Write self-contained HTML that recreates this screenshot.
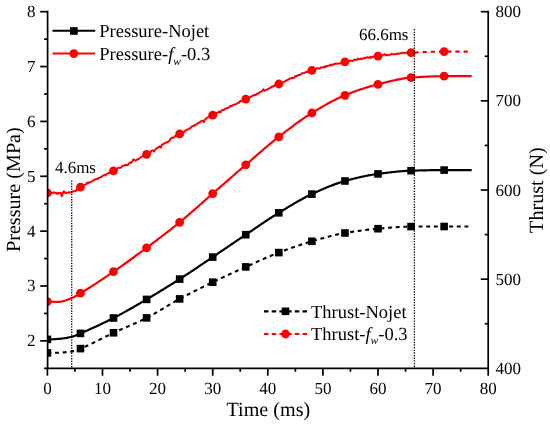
<!DOCTYPE html>
<html><head><meta charset="utf-8"><style>
html,body{margin:0;padding:0;background:#fff;width:550px;height:424px;overflow:hidden}
svg{display:block}
</style></head><body>
<svg text-rendering="geometricPrecision" width="550" height="424" viewBox="0 0 550 424">
<defs><clipPath id="pc"><rect x="47.4" y="0" width="440.8" height="368.3"/></clipPath></defs>
<g clip-path="url(#pc)">
<path d="M47.40,352.90 L48.78,352.90 L50.16,352.88 L51.53,352.87 L52.91,352.84 L54.29,352.81 L55.66,352.78 L57.04,352.74 L58.42,352.70 L59.80,352.65 L61.17,352.58 L62.55,352.49 L63.93,352.39 L65.31,352.26 L66.69,352.12 L68.06,351.96 L69.44,351.79 L70.82,351.60 L72.19,351.39 L73.57,351.14 L74.95,350.76 L76.33,350.28 L77.70,349.73 L79.08,349.16 L80.46,348.60 L81.84,348.05 L83.22,347.48 L84.59,346.89 L85.97,346.29 L87.35,345.67 L88.72,345.03 L90.10,344.38 L91.48,343.72 L92.86,343.05 L94.23,342.37 L95.61,341.69 L96.99,341.00 L98.37,340.30 L99.75,339.61 L101.12,338.91 L102.50,338.21 L103.88,337.51 L105.25,336.82 L106.63,336.13 L108.01,335.45 L109.39,334.77 L110.76,334.10 L112.14,333.45 L113.52,332.80 L114.90,332.17 L116.28,331.54 L117.65,330.92 L119.03,330.31 L120.41,329.70 L121.78,329.10 L123.16,328.50 L124.54,327.90 L125.92,327.31 L127.30,326.71 L128.67,326.12 L130.05,325.52 L131.43,324.92 L132.81,324.32 L134.18,323.71 L135.56,323.10 L136.94,322.48 L138.31,321.86 L139.69,321.22 L141.07,320.58 L142.45,319.93 L143.82,319.27 L145.20,318.59 L146.58,317.90 L147.96,317.19 L149.34,316.47 L150.71,315.73 L152.09,314.97 L153.47,314.20 L154.84,313.42 L156.22,312.62 L157.60,311.82 L158.98,311.00 L160.35,310.19 L161.73,309.36 L163.11,308.53 L164.49,307.71 L165.87,306.88 L167.24,306.05 L168.62,305.22 L170.00,304.40 L171.38,303.59 L172.75,302.78 L174.13,301.98 L175.51,301.19 L176.89,300.41 L178.26,299.65 L179.64,298.90 L181.02,298.16 L182.40,297.43 L183.77,296.70 L185.15,295.98 L186.53,295.26 L187.91,294.54 L189.28,293.83 L190.66,293.12 L192.04,292.42 L193.42,291.72 L194.79,291.02 L196.17,290.32 L197.55,289.63 L198.93,288.95 L200.30,288.26 L201.68,287.58 L203.06,286.90 L204.44,286.22 L205.81,285.55 L207.19,284.87 L208.57,284.20 L209.95,283.53 L211.32,282.87 L212.70,282.20 L214.08,281.54 L215.46,280.87 L216.83,280.22 L218.21,279.56 L219.59,278.91 L220.97,278.26 L222.34,277.61 L223.72,276.96 L225.10,276.32 L226.47,275.68 L227.85,275.04 L229.23,274.40 L230.61,273.77 L231.99,273.13 L233.36,272.50 L234.74,271.87 L236.12,271.25 L237.50,270.62 L238.87,270.00 L240.25,269.37 L241.63,268.75 L243.00,268.13 L244.38,267.52 L245.76,266.90 L247.14,266.28 L248.52,265.66 L249.89,265.04 L251.27,264.42 L252.65,263.80 L254.03,263.18 L255.40,262.56 L256.78,261.94 L258.16,261.32 L259.53,260.70 L260.91,260.09 L262.29,259.48 L263.67,258.87 L265.05,258.27 L266.42,257.67 L267.80,257.08 L269.18,256.50 L270.56,255.92 L271.93,255.34 L273.31,254.78 L274.69,254.22 L276.06,253.67 L277.44,253.13 L278.82,252.60 L280.20,252.08 L281.57,251.55 L282.95,251.04 L284.33,250.52 L285.71,250.01 L287.08,249.51 L288.46,249.01 L289.84,248.51 L291.22,248.02 L292.60,247.53 L293.97,247.05 L295.35,246.57 L296.73,246.10 L298.11,245.63 L299.48,245.17 L300.86,244.71 L302.24,244.26 L303.62,243.82 L304.99,243.38 L306.37,242.95 L307.75,242.53 L309.12,242.11 L310.50,241.70 L311.88,241.30 L313.26,240.90 L314.63,240.50 L316.01,240.10 L317.39,239.71 L318.77,239.31 L320.14,238.92 L321.52,238.53 L322.90,238.15 L324.28,237.77 L325.65,237.39 L327.03,237.03 L328.41,236.66 L329.79,236.31 L331.16,235.96 L332.54,235.61 L333.92,235.28 L335.30,234.96 L336.67,234.64 L338.05,234.34 L339.43,234.05 L340.81,233.77 L342.18,233.50 L343.56,233.24 L344.94,233.00 L346.32,232.77 L347.69,232.54 L349.07,232.31 L350.45,232.09 L351.83,231.88 L353.20,231.66 L354.58,231.46 L355.96,231.25 L357.34,231.06 L358.71,230.87 L360.09,230.68 L361.47,230.49 L362.85,230.32 L364.22,230.14 L365.60,229.98 L366.98,229.81 L368.36,229.66 L369.73,229.50 L371.11,229.36 L372.49,229.21 L373.87,229.08 L375.25,228.95 L376.62,228.82 L378.00,228.70 L379.38,228.58 L380.75,228.46 L382.13,228.34 L383.51,228.22 L384.89,228.10 L386.26,227.98 L387.64,227.87 L389.02,227.75 L390.40,227.64 L391.77,227.53 L393.15,227.42 L394.53,227.32 L395.91,227.22 L397.28,227.13 L398.66,227.04 L400.04,226.96 L401.42,226.89 L402.80,226.82 L404.17,226.76 L405.55,226.71 L406.93,226.67 L408.31,226.64 L409.68,226.61 L411.06,226.60 L412.44,226.59 L413.81,226.58 L415.19,226.58 L416.57,226.57 L417.95,226.56 L419.32,226.56 L420.70,226.55 L422.08,226.55 L423.46,226.54 L424.83,226.54 L426.21,226.53 L427.59,226.53 L428.97,226.52 L430.35,226.52 L431.72,226.51 L433.10,226.51 L434.48,226.51 L435.86,226.51 L437.23,226.50 L438.61,226.50 L439.99,226.50 L441.37,226.50 L442.74,226.50 L444.12,226.50 L445.50,226.50 L446.88,226.50 L448.25,226.50 L449.63,226.50 L451.01,226.50 L452.38,226.50 L453.76,226.50 L455.14,226.50 L456.52,226.50 L457.89,226.50 L459.27,226.50 L460.65,226.50 L462.03,226.50 L463.40,226.50 L464.78,226.50 L466.16,226.50 L467.54,226.50 L468.92,226.50 L470.29,226.50 L471.67,226.50" fill="none" stroke="#000" stroke-width="2.1" stroke-dasharray="3.9 3.74"/>
<path d="M47.40,193.61 L48.50,192.03 L49.60,193.09 L50.71,192.76 L51.81,192.81 L52.91,192.90 L54.01,192.28 L55.11,192.91 L56.22,192.69 L57.32,194.16 L58.42,193.08 L59.52,192.88 L60.62,192.90 L61.73,196.26 L62.83,192.60 L63.93,191.26 L65.03,193.00 L66.13,192.65 L67.24,192.94 L68.34,192.39 L69.44,192.30 L70.54,192.65 L71.64,192.10 L72.75,191.52 L73.85,191.30 L74.95,191.00 L76.05,190.80 L77.15,189.25 L78.26,188.46 L79.36,188.12 L80.46,186.79 L81.56,186.40 L82.66,186.21 L83.77,185.52 L84.87,184.77 L85.97,184.40 L87.07,182.61 L88.17,183.40 L89.28,182.15 L90.38,182.27 L91.48,181.49 L92.58,181.10 L93.68,180.16 L94.79,179.41 L95.89,179.26 L96.99,178.71 L98.09,178.69 L99.19,177.94 L100.30,177.22 L101.40,177.02 L102.50,176.04 L103.60,175.26 L104.70,175.27 L105.81,174.74 L106.91,173.94 L108.01,173.21 L109.11,173.03 L110.21,171.55 L111.32,173.30 L112.42,171.52 L113.52,170.23 L114.62,170.28 L115.72,169.38 L116.83,169.44 L117.93,167.92 L119.03,167.78 L120.13,167.82 L121.23,167.44 L122.34,165.75 L123.44,165.80 L124.54,165.56 L125.64,164.70 L126.74,164.94 L127.85,165.12 L128.95,163.44 L130.05,162.41 L131.15,162.74 L132.25,161.70 L133.36,159.27 L134.46,160.01 L135.56,160.65 L136.66,159.78 L137.76,159.22 L138.87,158.79 L139.97,157.95 L141.07,157.03 L142.17,156.40 L143.27,155.81 L144.38,155.98 L145.48,154.39 L146.58,155.67 L147.68,153.57 L148.78,153.14 L149.89,153.48 L150.99,151.35 L152.09,150.52 L153.19,150.47 L154.29,151.49 L155.40,149.39 L156.50,148.52 L157.60,147.64 L158.70,147.16 L159.80,146.28 L160.91,147.62 L162.01,144.69 L163.11,144.31 L164.21,143.51 L165.31,143.04 L166.42,142.22 L167.52,142.33 L168.62,141.25 L169.72,140.55 L170.82,138.61 L171.93,137.53 L173.03,137.72 L174.13,137.43 L175.23,135.77 L176.33,136.30 L177.44,135.59 L178.54,134.10 L179.64,133.56 L180.74,132.97 L181.84,132.62 L182.95,132.18 L184.05,132.02 L185.15,130.59 L186.25,130.28 L187.35,129.42 L188.46,129.34 L189.56,128.34 L190.66,127.92 L191.76,126.43 L192.86,126.10 L193.97,125.25 L195.07,125.43 L196.17,124.50 L197.27,123.54 L198.37,122.86 L199.48,122.57 L200.58,121.54 L201.68,120.84 L202.78,120.72 L203.88,122.11 L204.99,119.25 L206.09,118.54 L207.19,117.73 L208.29,117.07 L209.39,117.13 L210.50,116.66 L211.60,115.78 L212.70,115.32 L213.80,114.67 L214.90,114.10 L216.01,112.95 L217.11,112.76 L218.21,112.40 L219.31,111.54 L220.41,112.48 L221.52,110.42 L222.62,110.04 L223.72,109.92 L224.82,108.93 L225.92,108.48 L227.03,108.29 L228.13,107.69 L229.23,107.53 L230.33,105.67 L231.43,106.18 L232.54,105.18 L233.64,104.87 L234.74,104.59 L235.84,104.16 L236.94,103.62 L238.05,102.79 L239.15,102.78 L240.25,100.78 L241.35,101.13 L242.45,100.94 L243.56,99.95 L244.66,100.38 L245.76,99.46 L246.86,99.34 L247.96,98.05 L249.07,97.41 L250.17,97.09 L251.27,96.77 L252.37,95.79 L253.47,95.61 L254.58,94.96 L255.68,95.02 L256.78,93.71 L257.88,93.80 L258.98,92.69 L260.09,92.07 L261.19,91.66 L262.29,90.98 L263.39,89.24 L264.49,90.75 L265.60,89.95 L266.70,89.61 L267.80,89.46 L268.90,88.49 L270.00,87.96 L271.11,87.31 L272.21,86.35 L273.31,86.69 L274.41,85.32 L275.51,85.67 L276.62,84.96 L277.72,84.87 L278.82,83.98 L279.92,83.23 L281.02,83.16 L282.13,83.57 L283.23,81.99 L284.33,81.58 L285.43,81.02 L286.53,80.51 L287.64,79.79 L288.74,79.52 L289.84,78.35 L290.94,78.55 L292.04,77.70 L293.15,78.02 L294.25,77.59 L295.35,75.98 L296.45,76.24 L297.55,75.68 L298.66,74.89 L299.76,74.98 L300.86,74.18 L301.96,73.28 L303.06,73.37 L304.17,72.98 L305.27,72.65 L306.37,71.77 L307.47,72.01 L308.57,71.66 L309.68,70.62 L310.78,69.42 L311.88,70.27 L312.98,69.75 L314.08,70.22 L315.19,69.35 L316.29,68.59 L317.39,68.34 L318.49,68.27 L319.59,68.78 L320.70,67.60 L321.80,67.40 L322.90,67.23 L324.00,66.73 L325.10,67.25 L326.21,65.98 L327.31,66.13 L328.41,65.65 L329.51,65.53 L330.61,64.63 L331.72,65.39 L332.82,64.46 L333.92,64.25 L335.02,63.65 L336.12,63.47 L337.23,63.67 L338.33,63.57 L339.43,63.24 L340.53,63.16 L341.63,63.76 L342.74,62.27 L343.84,62.32 L344.94,62.01 L346.04,61.54 L347.14,61.60 L348.25,61.58 L349.35,60.99 L350.45,60.56 L351.55,60.72 L352.65,60.92 L353.76,59.97 L354.86,59.80 L355.96,59.58 L357.06,59.85 L358.16,58.58 L359.27,59.15 L360.37,59.24 L361.47,58.34 L362.57,58.96 L363.67,58.44 L364.78,57.87 L365.88,57.95 L366.98,57.17 L368.08,57.33 L369.18,57.99 L370.29,56.87 L371.39,57.67 L372.49,56.83 L373.59,57.05 L374.69,56.56 L375.80,55.61 L376.90,56.04 L378.00,56.17 L379.10,55.56 L380.20,55.34 L381.31,55.80 L382.41,55.31 L383.51,54.80 L384.61,54.13 L385.71,55.42 L386.82,54.81 L387.92,55.17 L389.02,55.25 L390.12,54.59 L391.22,54.05 L392.33,53.87 L393.43,54.19 L394.53,54.38 L395.63,54.05 L396.73,54.03 L397.84,53.57 L398.94,53.72 L400.04,53.35 L401.14,53.30 L402.24,52.86 L403.35,52.67 L404.45,52.96 L405.55,52.66 L406.65,52.63 L407.75,53.13 L408.86,52.78 L409.96,53.78 L411.06,53.02 L412.16,52.42 L413.26,52.86" fill="none" stroke="#f00" stroke-width="2.0" stroke-linejoin="round"/>
<path d="M414.37,52.53 L415.47,52.48 L416.57,52.43 L417.67,52.37 L418.77,52.32 L419.88,52.27 L420.98,52.22 L422.08,52.17 L423.18,52.12 L424.28,52.07 L425.39,52.03 L426.49,51.98 L427.59,51.94 L428.69,51.90 L429.79,51.86 L430.90,51.83 L432.00,51.79 L433.10,51.76 L434.20,51.73 L435.30,51.71 L436.41,51.68 L437.51,51.66 L438.61,51.64 L439.71,51.63 L440.81,51.62 L441.92,51.61 L443.02,51.60 L444.12,51.60 L445.22,51.60 L446.32,51.60 L447.43,51.60 L448.53,51.60 L449.63,51.60 L450.73,51.60 L451.83,51.60 L452.94,51.60 L454.04,51.60 L455.14,51.60 L456.24,51.60 L457.34,51.60 L458.45,51.60 L459.55,51.60 L460.65,51.60 L461.75,51.60 L462.85,51.60 L463.96,51.60 L465.06,51.60 L466.16,51.60 L467.26,51.60 L468.36,51.60 L469.47,51.60 L470.57,51.60 L471.67,51.60" fill="none" stroke="#f00" stroke-width="2.1" stroke-dasharray="4.3 3.9"/>
<path d="M47.40,339.40 L48.78,339.39 L50.16,339.36 L51.53,339.31 L52.91,339.25 L54.29,339.17 L55.66,339.09 L57.04,338.99 L58.42,338.90 L59.80,338.79 L61.17,338.65 L62.55,338.48 L63.93,338.28 L65.31,338.06 L66.69,337.82 L68.06,337.55 L69.44,337.27 L70.82,336.96 L72.19,336.63 L73.57,336.27 L74.95,335.80 L76.33,335.24 L77.70,334.63 L79.08,334.01 L80.46,333.40 L81.84,332.81 L83.22,332.22 L84.59,331.62 L85.97,331.02 L87.35,330.42 L88.72,329.81 L90.10,329.19 L91.48,328.57 L92.86,327.95 L94.23,327.32 L95.61,326.69 L96.99,326.05 L98.37,325.41 L99.75,324.76 L101.12,324.11 L102.50,323.45 L103.88,322.79 L105.25,322.12 L106.63,321.44 L108.01,320.77 L109.39,320.08 L110.76,319.39 L112.14,318.70 L113.52,318.00 L114.90,317.29 L116.28,316.58 L117.65,315.85 L119.03,315.12 L120.41,314.38 L121.78,313.63 L123.16,312.88 L124.54,312.12 L125.92,311.35 L127.30,310.58 L128.67,309.80 L130.05,309.02 L131.43,308.23 L132.81,307.44 L134.18,306.65 L135.56,305.85 L136.94,305.05 L138.31,304.25 L139.69,303.44 L141.07,302.63 L142.45,301.83 L143.82,301.02 L145.20,300.21 L146.58,299.40 L147.96,298.59 L149.34,297.78 L150.71,296.96 L152.09,296.14 L153.47,295.31 L154.84,294.49 L156.22,293.66 L157.60,292.83 L158.98,291.99 L160.35,291.15 L161.73,290.31 L163.11,289.46 L164.49,288.61 L165.87,287.76 L167.24,286.91 L168.62,286.05 L170.00,285.19 L171.38,284.33 L172.75,283.47 L174.13,282.60 L175.51,281.73 L176.89,280.85 L178.26,279.98 L179.64,279.10 L181.02,278.22 L182.40,277.33 L183.77,276.44 L185.15,275.54 L186.53,274.64 L187.91,273.73 L189.28,272.82 L190.66,271.91 L192.04,271.00 L193.42,270.08 L194.79,269.16 L196.17,268.24 L197.55,267.31 L198.93,266.38 L200.30,265.46 L201.68,264.53 L203.06,263.60 L204.44,262.67 L205.81,261.74 L207.19,260.81 L208.57,259.88 L209.95,258.95 L211.32,258.03 L212.70,257.10 L214.08,256.17 L215.46,255.25 L216.83,254.32 L218.21,253.38 L219.59,252.45 L220.97,251.52 L222.34,250.58 L223.72,249.64 L225.10,248.71 L226.47,247.77 L227.85,246.83 L229.23,245.89 L230.61,244.96 L231.99,244.02 L233.36,243.08 L234.74,242.14 L236.12,241.21 L237.50,240.27 L238.87,239.34 L240.25,238.41 L241.63,237.48 L243.00,236.55 L244.38,235.62 L245.76,234.70 L247.14,233.78 L248.52,232.85 L249.89,231.92 L251.27,230.98 L252.65,230.05 L254.03,229.11 L255.40,228.17 L256.78,227.24 L258.16,226.30 L259.53,225.37 L260.91,224.43 L262.29,223.50 L263.67,222.58 L265.05,221.66 L266.42,220.74 L267.80,219.83 L269.18,218.92 L270.56,218.02 L271.93,217.13 L273.31,216.24 L274.69,215.37 L276.06,214.50 L277.44,213.65 L278.82,212.80 L280.20,211.96 L281.57,211.12 L282.95,210.28 L284.33,209.44 L285.71,208.60 L287.08,207.76 L288.46,206.93 L289.84,206.10 L291.22,205.28 L292.60,204.47 L293.97,203.66 L295.35,202.85 L296.73,202.06 L298.11,201.28 L299.48,200.50 L300.86,199.74 L302.24,198.98 L303.62,198.24 L304.99,197.52 L306.37,196.80 L307.75,196.10 L309.12,195.42 L310.50,194.75 L311.88,194.10 L313.26,193.46 L314.63,192.82 L316.01,192.19 L317.39,191.56 L318.77,190.94 L320.14,190.32 L321.52,189.71 L322.90,189.10 L324.28,188.51 L325.65,187.92 L327.03,187.34 L328.41,186.78 L329.79,186.22 L331.16,185.67 L332.54,185.14 L333.92,184.62 L335.30,184.11 L336.67,183.62 L338.05,183.14 L339.43,182.68 L340.81,182.23 L342.18,181.80 L343.56,181.39 L344.94,181.00 L346.32,180.62 L347.69,180.24 L349.07,179.87 L350.45,179.51 L351.83,179.15 L353.20,178.80 L354.58,178.46 L355.96,178.12 L357.34,177.79 L358.71,177.47 L360.09,177.16 L361.47,176.85 L362.85,176.55 L364.22,176.26 L365.60,175.98 L366.98,175.71 L368.36,175.45 L369.73,175.20 L371.11,174.96 L372.49,174.72 L373.87,174.50 L375.25,174.29 L376.62,174.09 L378.00,173.90 L379.38,173.72 L380.75,173.53 L382.13,173.35 L383.51,173.18 L384.89,173.00 L386.26,172.83 L387.64,172.66 L389.02,172.49 L390.40,172.33 L391.77,172.17 L393.15,172.02 L394.53,171.87 L395.91,171.73 L397.28,171.60 L398.66,171.47 L400.04,171.35 L401.42,171.24 L402.80,171.14 L404.17,171.04 L405.55,170.95 L406.93,170.87 L408.31,170.81 L409.68,170.75 L411.06,170.70 L412.44,170.66 L413.81,170.62 L415.19,170.58 L416.57,170.54 L417.95,170.50 L419.32,170.46 L420.70,170.43 L422.08,170.39 L423.46,170.36 L424.83,170.33 L426.21,170.30 L427.59,170.27 L428.97,170.25 L430.35,170.22 L431.72,170.20 L433.10,170.18 L434.48,170.16 L435.86,170.15 L437.23,170.13 L438.61,170.12 L439.99,170.11 L441.37,170.11 L442.74,170.10 L444.12,170.10 L445.50,170.10 L446.88,170.10 L448.25,170.10 L449.63,170.10 L451.01,170.10 L452.38,170.10 L453.76,170.10 L455.14,170.10 L456.52,170.10 L457.89,170.10 L459.27,170.10 L460.65,170.10 L462.03,170.10 L463.40,170.10 L464.78,170.10 L466.16,170.10 L467.54,170.10 L468.92,170.10 L470.29,170.10 L471.67,170.10" fill="none" stroke="#000" stroke-width="2.2"/>
<path d="M47.40,301.60 L48.78,301.67 L50.16,301.72 L51.53,301.75 L52.91,301.77 L54.29,301.79 L55.66,301.80 L57.04,301.80 L58.42,301.80 L59.80,301.74 L61.17,301.56 L62.55,301.29 L63.93,300.94 L65.31,300.51 L66.69,300.03 L68.06,299.50 L69.44,298.95 L70.82,298.39 L72.19,297.82 L73.57,297.24 L74.95,296.55 L76.33,295.76 L77.70,294.91 L79.08,294.05 L80.46,293.20 L81.84,292.37 L83.22,291.53 L84.59,290.69 L85.97,289.84 L87.35,288.98 L88.72,288.11 L90.10,287.24 L91.48,286.37 L92.86,285.48 L94.23,284.59 L95.61,283.70 L96.99,282.80 L98.37,281.90 L99.75,280.99 L101.12,280.08 L102.50,279.16 L103.88,278.24 L105.25,277.31 L106.63,276.39 L108.01,275.45 L109.39,274.52 L110.76,273.58 L112.14,272.64 L113.52,271.70 L114.90,270.75 L116.28,269.80 L117.65,268.84 L119.03,267.88 L120.41,266.91 L121.78,265.94 L123.16,264.96 L124.54,263.98 L125.92,262.99 L127.30,262.00 L128.67,261.00 L130.05,260.00 L131.43,259.00 L132.81,258.00 L134.18,256.99 L135.56,255.97 L136.94,254.96 L138.31,253.94 L139.69,252.92 L141.07,251.90 L142.45,250.88 L143.82,249.85 L145.20,248.83 L146.58,247.80 L147.96,246.77 L149.34,245.74 L150.71,244.71 L152.09,243.68 L153.47,242.65 L154.84,241.61 L156.22,240.57 L157.60,239.53 L158.98,238.49 L160.35,237.44 L161.73,236.39 L163.11,235.34 L164.49,234.28 L165.87,233.22 L167.24,232.16 L168.62,231.08 L170.00,230.01 L171.38,228.93 L172.75,227.84 L174.13,226.74 L175.51,225.64 L176.89,224.54 L178.26,223.42 L179.64,222.30 L181.02,221.17 L182.40,220.03 L183.77,218.88 L185.15,217.71 L186.53,216.54 L187.91,215.37 L189.28,214.18 L190.66,212.99 L192.04,211.79 L193.42,210.59 L194.79,209.38 L196.17,208.17 L197.55,206.95 L198.93,205.74 L200.30,204.52 L201.68,203.30 L203.06,202.08 L204.44,200.86 L205.81,199.64 L207.19,198.43 L208.57,197.22 L209.95,196.01 L211.32,194.80 L212.70,193.60 L214.08,192.40 L215.46,191.20 L216.83,190.00 L218.21,188.80 L219.59,187.59 L220.97,186.39 L222.34,185.18 L223.72,183.98 L225.10,182.77 L226.47,181.57 L227.85,180.36 L229.23,179.16 L230.61,177.95 L231.99,176.75 L233.36,175.54 L234.74,174.34 L236.12,173.14 L237.50,171.95 L238.87,170.75 L240.25,169.55 L241.63,168.36 L243.00,167.17 L244.38,165.98 L245.76,164.80 L247.14,163.61 L248.52,162.42 L249.89,161.23 L251.27,160.04 L252.65,158.84 L254.03,157.64 L255.40,156.44 L256.78,155.24 L258.16,154.04 L259.53,152.85 L260.91,151.66 L262.29,150.47 L263.67,149.28 L265.05,148.10 L266.42,146.93 L267.80,145.77 L269.18,144.61 L270.56,143.46 L271.93,142.32 L273.31,141.19 L274.69,140.08 L276.06,138.97 L277.44,137.88 L278.82,136.80 L280.20,135.73 L281.57,134.66 L282.95,133.59 L284.33,132.53 L285.71,131.47 L287.08,130.41 L288.46,129.37 L289.84,128.32 L291.22,127.28 L292.60,126.26 L293.97,125.23 L295.35,124.22 L296.73,123.22 L298.11,122.23 L299.48,121.24 L300.86,120.27 L302.24,119.31 L303.62,118.37 L304.99,117.44 L306.37,116.52 L307.75,115.61 L309.12,114.73 L310.50,113.85 L311.88,113.00 L313.26,112.16 L314.63,111.32 L316.01,110.48 L317.39,109.65 L318.77,108.83 L320.14,108.02 L321.52,107.21 L322.90,106.41 L324.28,105.62 L325.65,104.84 L327.03,104.07 L328.41,103.31 L329.79,102.56 L331.16,101.83 L332.54,101.10 L333.92,100.40 L335.30,99.70 L336.67,99.02 L338.05,98.36 L339.43,97.71 L340.81,97.08 L342.18,96.47 L343.56,95.88 L344.94,95.30 L346.32,94.74 L347.69,94.19 L349.07,93.64 L350.45,93.11 L351.83,92.58 L353.20,92.06 L354.58,91.55 L355.96,91.05 L357.34,90.56 L358.71,90.08 L360.09,89.61 L361.47,89.14 L362.85,88.69 L364.22,88.24 L365.60,87.81 L366.98,87.38 L368.36,86.96 L369.73,86.55 L371.11,86.15 L372.49,85.76 L373.87,85.38 L375.25,85.01 L376.62,84.65 L378.00,84.30 L379.38,83.95 L380.75,83.60 L382.13,83.25 L383.51,82.89 L384.89,82.54 L386.26,82.19 L387.64,81.84 L389.02,81.50 L390.40,81.16 L391.77,80.83 L393.15,80.51 L394.53,80.20 L395.91,79.90 L397.28,79.61 L398.66,79.33 L400.04,79.06 L401.42,78.81 L402.80,78.58 L404.17,78.37 L405.55,78.17 L406.93,78.00 L408.31,77.84 L409.68,77.71 L411.06,77.60 L412.44,77.50 L413.81,77.41 L415.19,77.32 L416.57,77.23 L417.95,77.14 L419.32,77.06 L420.70,76.97 L422.08,76.89 L423.46,76.82 L424.83,76.75 L426.21,76.68 L427.59,76.61 L428.97,76.55 L430.35,76.49 L431.72,76.44 L433.10,76.39 L434.48,76.35 L435.86,76.31 L437.23,76.28 L438.61,76.25 L439.99,76.23 L441.37,76.21 L442.74,76.20 L444.12,76.20 L445.50,76.20 L446.88,76.20 L448.25,76.20 L449.63,76.20 L451.01,76.20 L452.38,76.20 L453.76,76.20 L455.14,76.20 L456.52,76.20 L457.89,76.20 L459.27,76.20 L460.65,76.20 L462.03,76.20 L463.40,76.20 L464.78,76.20 L466.16,76.20 L467.54,76.20 L468.92,76.20 L470.29,76.20 L471.67,76.20" fill="none" stroke="#f00" stroke-width="2.2"/>
<rect x="43.60" y="349.10" width="7.6" height="7.6" fill="#000"/><rect x="76.66" y="344.80" width="7.6" height="7.6" fill="#000"/><rect x="109.72" y="329.00" width="7.6" height="7.6" fill="#000"/><rect x="142.78" y="314.10" width="7.6" height="7.6" fill="#000"/><rect x="175.84" y="295.10" width="7.6" height="7.6" fill="#000"/><rect x="208.90" y="278.40" width="7.6" height="7.6" fill="#000"/><rect x="241.96" y="263.10" width="7.6" height="7.6" fill="#000"/><rect x="275.02" y="248.80" width="7.6" height="7.6" fill="#000"/><rect x="308.08" y="237.50" width="7.6" height="7.6" fill="#000"/><rect x="341.14" y="229.20" width="7.6" height="7.6" fill="#000"/><rect x="374.20" y="224.90" width="7.6" height="7.6" fill="#000"/><rect x="407.26" y="222.80" width="7.6" height="7.6" fill="#000"/><rect x="440.32" y="222.70" width="7.6" height="7.6" fill="#000"/>
<circle cx="47.40" cy="192.90" r="4.4" fill="#f00"/><circle cx="80.46" cy="187.10" r="4.4" fill="#f00"/><circle cx="113.52" cy="170.80" r="4.4" fill="#f00"/><circle cx="146.58" cy="154.30" r="4.4" fill="#f00"/><circle cx="179.64" cy="133.90" r="4.4" fill="#f00"/><circle cx="212.70" cy="115.20" r="4.4" fill="#f00"/><circle cx="245.76" cy="99.10" r="4.4" fill="#f00"/><circle cx="278.82" cy="84.00" r="4.4" fill="#f00"/><circle cx="311.88" cy="70.30" r="4.4" fill="#f00"/><circle cx="344.94" cy="61.80" r="4.4" fill="#f00"/><circle cx="378.00" cy="56.10" r="4.4" fill="#f00"/><circle cx="411.06" cy="52.70" r="4.4" fill="#f00"/><circle cx="444.12" cy="51.60" r="4.4" fill="#f00"/>
<rect x="43.60" y="335.60" width="7.6" height="7.6" fill="#000"/><rect x="76.66" y="329.60" width="7.6" height="7.6" fill="#000"/><rect x="109.72" y="314.20" width="7.6" height="7.6" fill="#000"/><rect x="142.78" y="295.60" width="7.6" height="7.6" fill="#000"/><rect x="175.84" y="275.30" width="7.6" height="7.6" fill="#000"/><rect x="208.90" y="253.30" width="7.6" height="7.6" fill="#000"/><rect x="241.96" y="230.90" width="7.6" height="7.6" fill="#000"/><rect x="275.02" y="209.00" width="7.6" height="7.6" fill="#000"/><rect x="308.08" y="190.30" width="7.6" height="7.6" fill="#000"/><rect x="341.14" y="177.20" width="7.6" height="7.6" fill="#000"/><rect x="374.20" y="170.10" width="7.6" height="7.6" fill="#000"/><rect x="407.26" y="166.90" width="7.6" height="7.6" fill="#000"/><rect x="440.32" y="166.30" width="7.6" height="7.6" fill="#000"/>
<circle cx="47.40" cy="301.60" r="4.4" fill="#f00"/><circle cx="80.46" cy="293.20" r="4.4" fill="#f00"/><circle cx="113.52" cy="271.70" r="4.4" fill="#f00"/><circle cx="146.58" cy="247.80" r="4.4" fill="#f00"/><circle cx="179.64" cy="222.30" r="4.4" fill="#f00"/><circle cx="212.70" cy="193.60" r="4.4" fill="#f00"/><circle cx="245.76" cy="164.80" r="4.4" fill="#f00"/><circle cx="278.82" cy="136.80" r="4.4" fill="#f00"/><circle cx="311.88" cy="113.00" r="4.4" fill="#f00"/><circle cx="344.94" cy="95.30" r="4.4" fill="#f00"/><circle cx="378.00" cy="84.30" r="4.4" fill="#f00"/><circle cx="411.06" cy="77.60" r="4.4" fill="#f00"/><circle cx="444.12" cy="76.20" r="4.4" fill="#f00"/>
</g>
<line x1="71.7" y1="180.5" x2="71.7" y2="368.3" stroke="#000" stroke-width="1.3" stroke-dasharray="1.35 1.3"/>
<line x1="414.4" y1="29" x2="414.4" y2="368.3" stroke="#000" stroke-width="1.3" stroke-dasharray="1.35 1.3"/>
<g stroke="#000" stroke-width="1.7" fill="none">
<line x1="47.6" y1="10.85" x2="47.6" y2="369.15000000000003"/>
<line x1="488.2" y1="10.85" x2="488.2" y2="369.15000000000003"/>
<line x1="46.75" y1="368.3" x2="489.05" y2="368.3"/>
<line x1="44.10" y1="368.30" x2="47.60" y2="368.30"/><line x1="40.20" y1="340.87" x2="47.60" y2="340.87"/><line x1="44.10" y1="313.44" x2="47.60" y2="313.44"/><line x1="40.20" y1="286.01" x2="47.60" y2="286.01"/><line x1="44.10" y1="258.58" x2="47.60" y2="258.58"/><line x1="40.20" y1="231.15" x2="47.60" y2="231.15"/><line x1="44.10" y1="203.72" x2="47.60" y2="203.72"/><line x1="40.20" y1="176.28" x2="47.60" y2="176.28"/><line x1="44.10" y1="148.85" x2="47.60" y2="148.85"/><line x1="40.20" y1="121.42" x2="47.60" y2="121.42"/><line x1="44.10" y1="93.99" x2="47.60" y2="93.99"/><line x1="40.20" y1="66.56" x2="47.60" y2="66.56"/><line x1="44.10" y1="39.13" x2="47.60" y2="39.13"/><line x1="40.20" y1="11.70" x2="47.60" y2="11.70"/><line x1="484.70" y1="323.73" x2="488.20" y2="323.73"/><line x1="480.80" y1="279.15" x2="488.20" y2="279.15"/><line x1="484.70" y1="234.57" x2="488.20" y2="234.57"/><line x1="480.80" y1="190.00" x2="488.20" y2="190.00"/><line x1="484.70" y1="145.42" x2="488.20" y2="145.42"/><line x1="480.80" y1="100.85" x2="488.20" y2="100.85"/><line x1="484.70" y1="56.28" x2="488.20" y2="56.28"/><line x1="480.80" y1="11.70" x2="488.20" y2="11.70"/><line x1="47.40" y1="368.30" x2="47.40" y2="375.70"/><line x1="74.95" y1="368.30" x2="74.95" y2="371.80"/><line x1="102.50" y1="368.30" x2="102.50" y2="375.70"/><line x1="130.05" y1="368.30" x2="130.05" y2="371.80"/><line x1="157.60" y1="368.30" x2="157.60" y2="375.70"/><line x1="185.15" y1="368.30" x2="185.15" y2="371.80"/><line x1="212.70" y1="368.30" x2="212.70" y2="375.70"/><line x1="240.25" y1="368.30" x2="240.25" y2="371.80"/><line x1="267.80" y1="368.30" x2="267.80" y2="375.70"/><line x1="295.35" y1="368.30" x2="295.35" y2="371.80"/><line x1="322.90" y1="368.30" x2="322.90" y2="375.70"/><line x1="350.45" y1="368.30" x2="350.45" y2="371.80"/><line x1="378.00" y1="368.30" x2="378.00" y2="375.70"/><line x1="405.55" y1="368.30" x2="405.55" y2="371.80"/><line x1="433.10" y1="368.30" x2="433.10" y2="375.70"/><line x1="460.65" y1="368.30" x2="460.65" y2="371.80"/><line x1="488.20" y1="368.30" x2="488.20" y2="375.70"/>
</g>
<g font-family="'Liberation Serif', 'Times New Roman', serif" font-size="17" fill="#000">
<text x="35.6" y="346.27" text-anchor="end">2</text><text x="35.6" y="291.41" text-anchor="end">3</text><text x="35.6" y="236.55" text-anchor="end">4</text><text x="35.6" y="181.68" text-anchor="end">5</text><text x="35.6" y="126.82" text-anchor="end">6</text><text x="35.6" y="71.96" text-anchor="end">7</text><text x="35.6" y="17.10" text-anchor="end">8</text><text x="495.6" y="373.90">400</text><text x="495.6" y="284.75">500</text><text x="495.6" y="195.60">600</text><text x="495.6" y="106.45">700</text><text x="495.6" y="17.30">800</text><text x="47.40" y="393.5" text-anchor="middle">0</text><text x="102.50" y="393.5" text-anchor="middle">10</text><text x="157.60" y="393.5" text-anchor="middle">20</text><text x="212.70" y="393.5" text-anchor="middle">30</text><text x="267.80" y="393.5" text-anchor="middle">40</text><text x="322.90" y="393.5" text-anchor="middle">50</text><text x="378.00" y="393.5" text-anchor="middle">60</text><text x="433.10" y="393.5" text-anchor="middle">70</text><text x="488.20" y="393.5" text-anchor="middle">80</text>
<text x="54.9" y="173">4.6ms</text>
<text x="358.9" y="40">66.6ms</text>
</g>
<g font-family="'Liberation Serif', 'Times New Roman', serif" font-size="18.5" fill="#000">
<line x1="52.5" y1="30.8" x2="95.2" y2="30.8" stroke="#000" stroke-width="2"/>
<rect x="70.1" y="27.2" width="7.6" height="7.6" fill="#000"/>
<text x="99.3" y="37.3">Pressure-Nojet</text>
<line x1="52.5" y1="53.6" x2="95.2" y2="53.6" stroke="#f00" stroke-width="2"/>
<circle cx="73.8" cy="53.6" r="4.4" fill="#f00"/>
<text x="99.3" y="60.4">Pressure-<tspan font-style="italic">f</tspan><tspan font-style="italic" font-size="11.5" dy="4.3">w</tspan><tspan dy="-4.3">-0.3</tspan></text>
<line x1="264" y1="311.4" x2="307" y2="311.4" stroke="#000" stroke-width="2.1" stroke-dasharray="4.5 3.2"/>
<rect x="281.7" y="307.5" width="7.6" height="7.6" fill="#000"/>
<text x="311.0" y="317.6">Thrust-Nojet</text>
<line x1="264" y1="334" x2="307" y2="334" stroke="#f00" stroke-width="2.1" stroke-dasharray="4.5 3.2"/>
<circle cx="285.5" cy="334" r="4.4" fill="#f00"/>
<text x="311.0" y="340.0">Thrust-<tspan font-style="italic">f</tspan><tspan font-style="italic" font-size="11.5" dy="4.3">w</tspan><tspan dy="-4.3">-0.3</tspan></text>
</g>
<g font-family="'Liberation Serif', 'Times New Roman', serif" font-size="20.15" fill="#000">
<text x="268.4" y="416" text-anchor="middle">Time (ms)</text>
<text transform="translate(19.9,189.6) rotate(-90)" text-anchor="middle">Pressure (MPa)</text>
<text transform="translate(542.7,190.1) rotate(-90)" text-anchor="middle">Thrust (N)</text>
</g>
</svg>
</body></html>
